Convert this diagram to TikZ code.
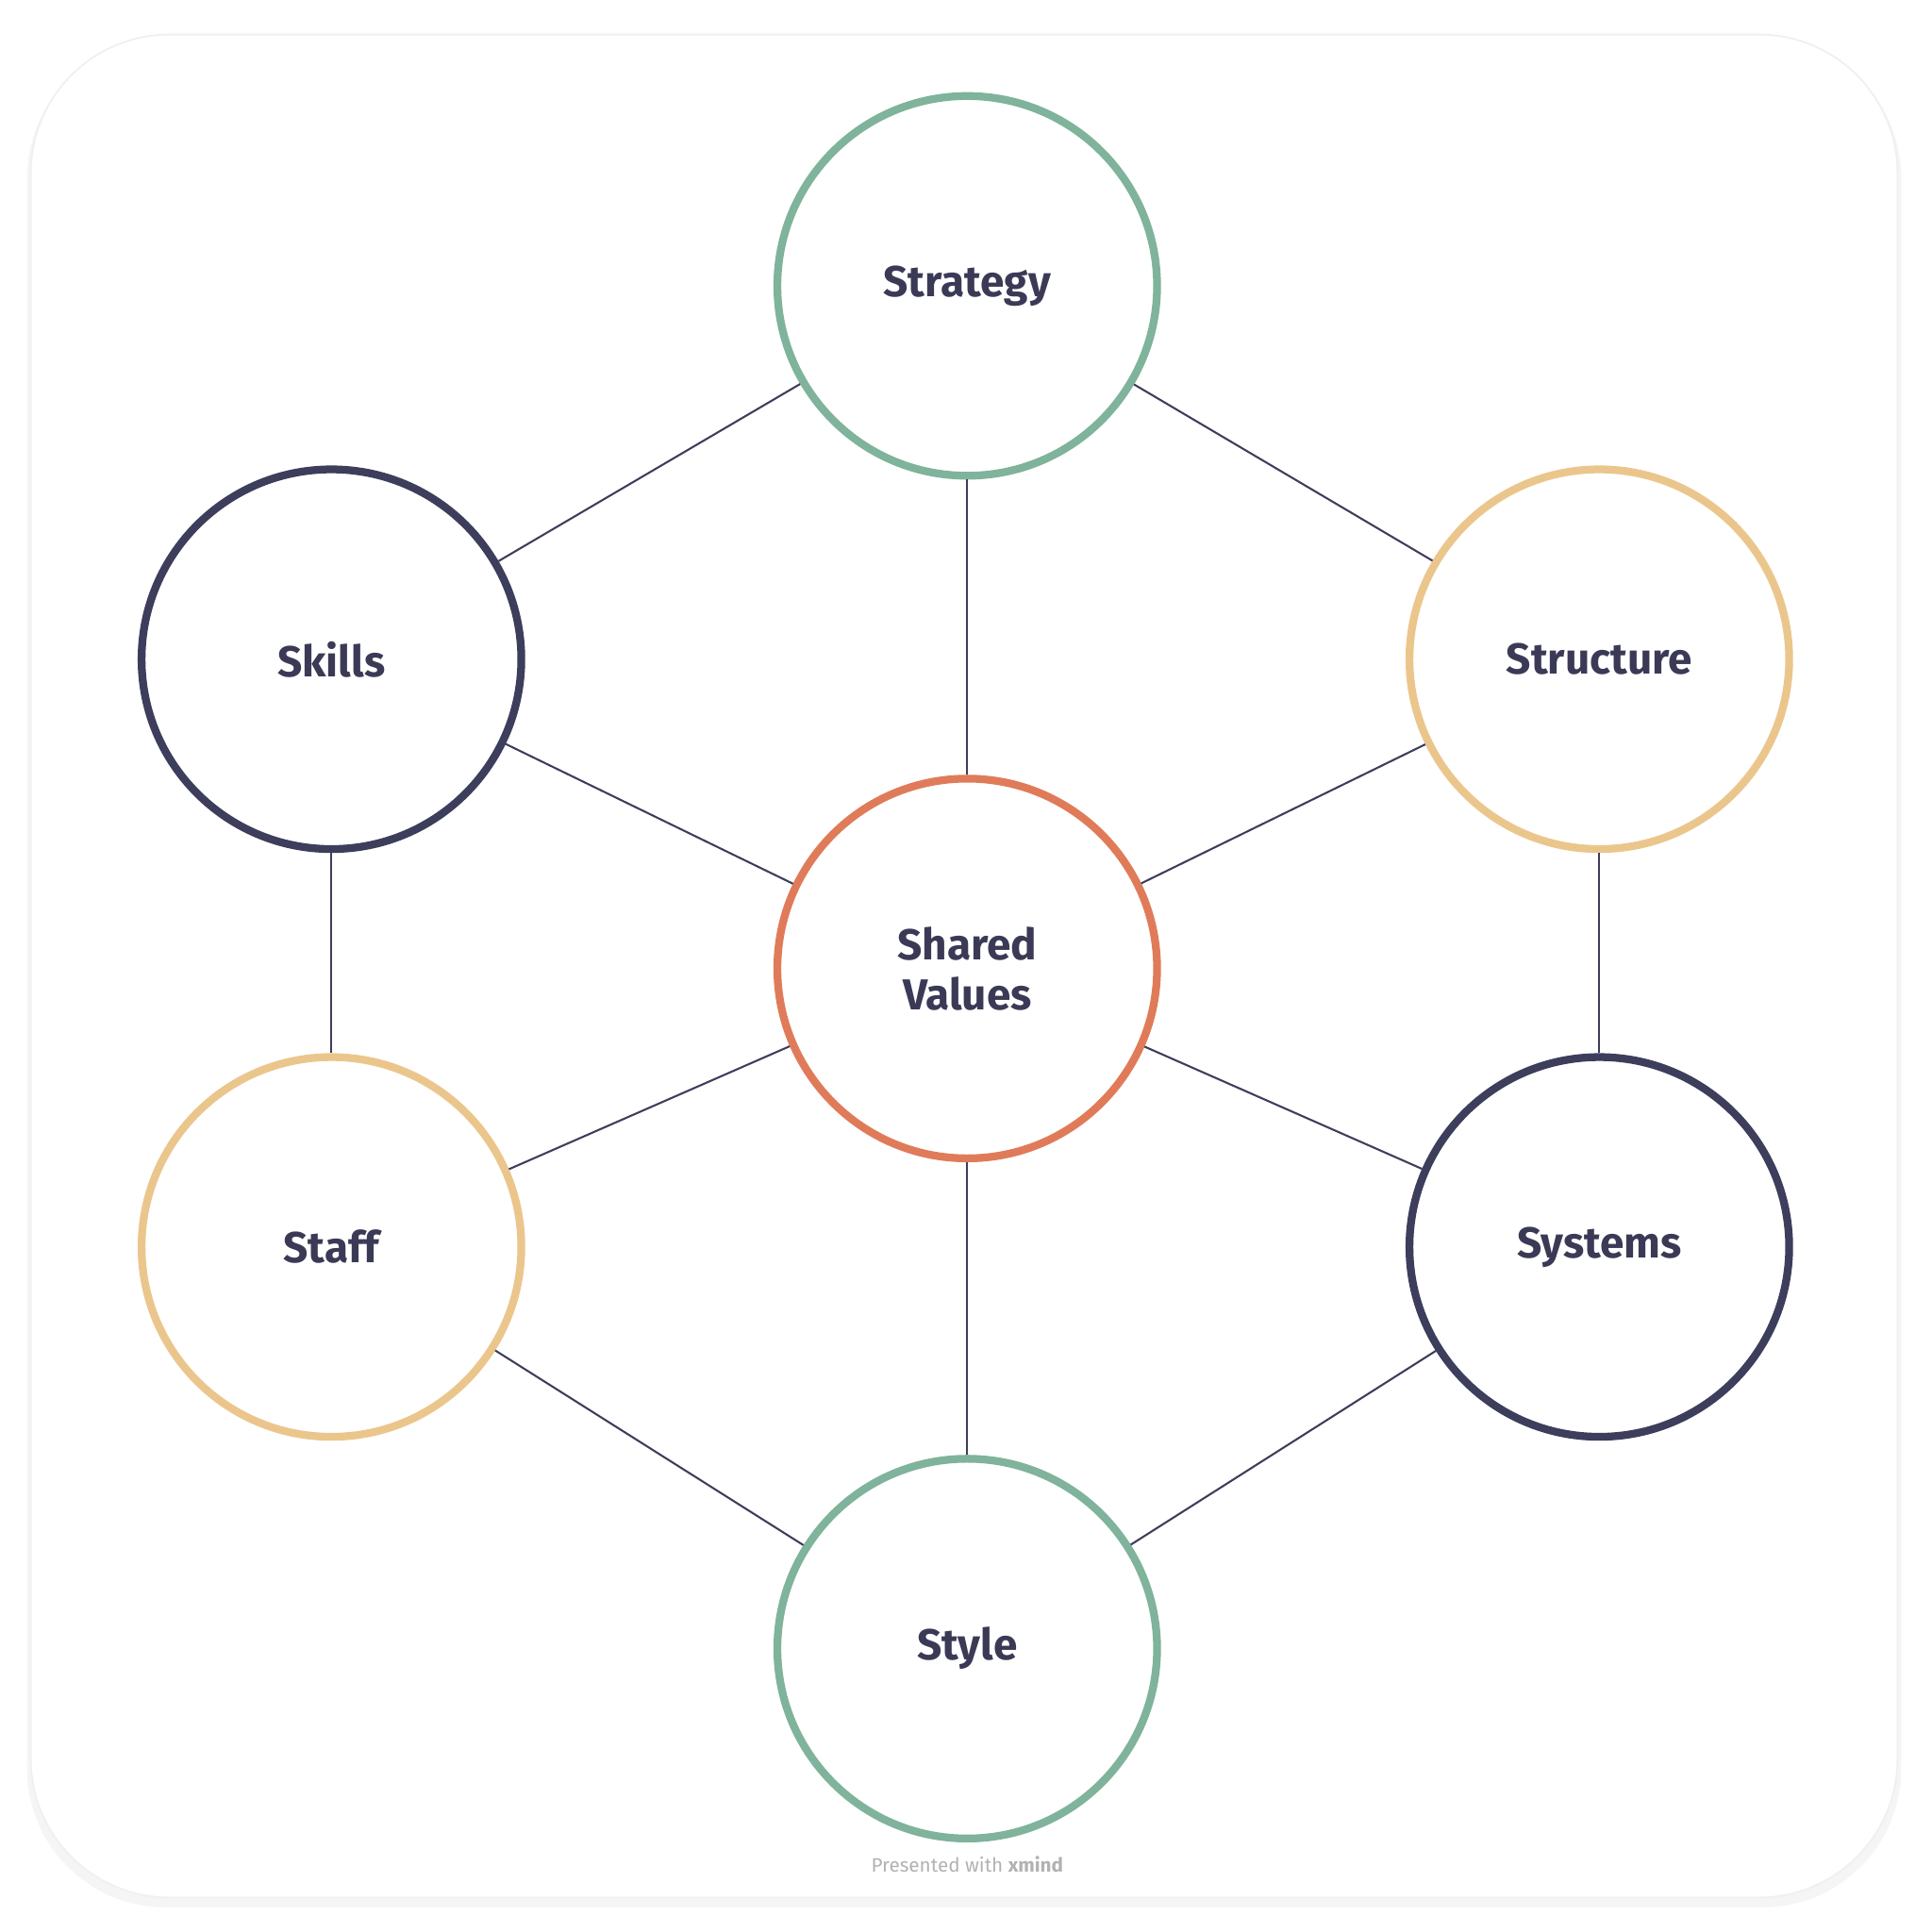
\documentclass[tikz,border=0pt]{standalone}
\usepackage{fontspec}
\setmainfont{Fira Sans}
\definecolor{cgreen}{HTML}{7FB39B}
\definecolor{cyellow}{HTML}{EBC68C}
\definecolor{cdark}{HTML}{3D3D5C}
\definecolor{corange}{HTML}{E07B5A}
\definecolor{ctext}{HTML}{3B3A56}
\begin{document}
\begin{tikzpicture}[x=0.01cm,y=-0.01cm,
  ball/.style={circle,draw,line width=1.8pt,minimum size=3.08cm,inner sep=0pt,align=center,
    font=\fontsize{10}{11.5}\selectfont\bfseries,text=ctext},
  link/.style={draw=cdark,line width=0.45pt}]
\useasboundingbox (0,0) rectangle (1568,1568);
\fill[white] (0,0) rectangle (1568,1568);
\fill[black!4,rounded corners=32] (22,32) rectangle (1543,1548);
\fill[white,draw=black!6,rounded corners=32] (25,28) rectangle (1540,1540);
\node[ball,draw=cgreen] (strat) at (785,232) {Strategy};
\node[ball,draw=cdark] (skills) at (269,535) {Skills};
\node[ball,draw=cyellow] (struct) at (1298,535) {Structure};
\node[ball,draw=corange] (shared) at (785,786) {Shared\\Values};
\node[ball,draw=cyellow] (staff) at (269,1012) {Staff};
\node[ball,draw=cdark] (sys) at (1298,1012) {Systems};
\node[ball,draw=cgreen] (style) at (785,1338) {Style};
\foreach \a/\b in {strat/skills,strat/struct,strat/shared,skills/shared,struct/shared,skills/staff,struct/sys,shared/staff,shared/sys,shared/style,staff/style,sys/style}
  \draw[link] (\a) -- (\b);
\node[font=\fontsize{4.5}{5}\selectfont,text=black!30] (foot) at (785,1513) {Presented with \textbf{xmind}};
\end{tikzpicture}
\end{document}
